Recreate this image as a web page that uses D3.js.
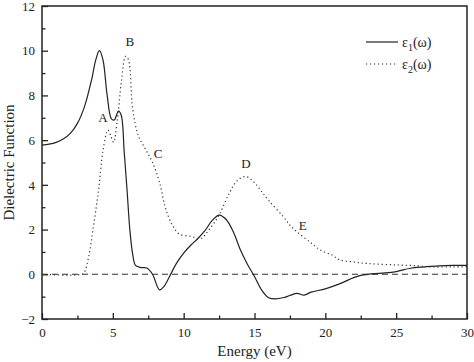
<!doctype html>
<html lang="en">
<head>
  <script src="https://cdnjs.cloudflare.com/ajax/libs/d3/7.8.5/d3.min.js"></script>
  <style type="text/css">
    body { margin: 0; padding: 0; background: #fff; }
    svg { display: block; }
    text { font-family: "Liberation Serif", "DejaVu Serif", serif; fill: #222; }
  </style>
</head>
<body>
<svg id="canvas" width="474" height="362"></svg>
<script>
// energy grid + the two curves
var energy1 = [0, 0.5, 1, 1.5, 2, 2.5, 3, 3.5, 3.8, 4.05, 4.3, 4.6, 4.9, 5.1, 5.4, 5.6, 5.8, 6.0, 6.2, 6.4, 6.6,
  7.0, 7.4, 7.8, 8.3, 8.6, 9.0, 9.5, 10, 10.5, 11, 11.5, 12, 12.5, 13, 13.5, 14, 14.5, 15, 15.5, 16, 16.5,
  17, 17.5, 18, 18.5, 19, 20, 21, 22, 22.5, 23, 24, 25, 26, 27, 28, 29, 30];
var eps1 = [5.78, 5.82, 5.9, 6.05, 6.3, 6.75, 7.5, 8.7, 9.6, 10.0, 9.6, 8.0, 6.95, 6.9, 7.3, 7.1, 5.5, 3.8, 2.0, 0.9, 0.4,
  0.3, 0.28, 0.0, -0.7, -0.55, -0.1, 0.5, 0.95, 1.3, 1.6, 1.95, 2.4, 2.65, 2.45, 1.9, 1.1, 0.45, -0.1, -0.7, -1.05, -1.1,
  -1.05, -0.95, -0.85, -0.93, -0.8, -0.65, -0.43, -0.15, -0.05, 0.0, 0.05, 0.12, 0.27, 0.33, 0.38, 0.4, 0.4];

var energy2 = [0, 2.8, 3.0, 3.3, 3.6, 4.0, 4.3, 4.65, 4.85, 5.05, 5.3, 5.6, 5.9, 6.1, 6.4, 6.8, 7.3, 7.8, 8.3, 8.7,
  9.2, 9.7, 10.5, 11.2, 11.8, 12.5, 13.2, 13.8, 14.4, 15, 15.5, 16, 17, 17.5, 18, 19, 19.6, 20.5, 21, 22, 23,
  25, 26.5, 27.5, 29, 30];
var eps2 = [0, 0, 0.1, 0.8, 2.0, 3.8, 5.5, 6.45, 6.2, 5.9, 6.8, 8.6, 9.75, 9.6, 7.4, 6.2, 5.6, 5.0, 4.1, 3.0,
  2.2, 1.8, 1.7, 1.6, 2.0, 2.65, 3.6, 4.2, 4.37, 4.1, 3.7, 3.3, 2.6, 2.2, 1.9, 1.4, 1.1, 0.85, 0.65, 0.55, 0.48,
  0.42, 0.38, 0.33, 0.33, 0.34];

var xTicks = [0, 5, 10, 15, 20, 25, 30];
var yTicks = [-2, 0, 2, 4, 6, 8, 10, 12];

var peakNames = ['A', 'B', 'C', 'D', 'E'];
var peakE = [4.3, 6.2, 8.2, 14.4, 18.4];
var peakV = [6.8, 10.2, 5.2, 4.75, 2.0];

var svg = d3.select('#canvas');

var plotLeft = 42, plotRight = 467, plotTop = 6, plotBottom = 319;

var x = d3.scaleLinear().domain([0, 30]).range([plotLeft, plotRight]);
var y = d3.scaleLinear().domain([-2, 12]).range([plotBottom, plotTop]);

// frame
svg.append('rect')
  .attr('x', plotLeft).attr('y', plotTop)
  .attr('width', plotRight - plotLeft).attr('height', plotBottom - plotTop)
  .attr('fill', 'none').attr('stroke', '#222').attr('stroke-width', 1.5);

// ticks, inward
var xAxis = d3.axisBottom(x).tickValues(xTicks).tickSizeInner(-6).tickSizeOuter(0).tickPadding(9);
var gx = svg.append('g').attr('transform', 'translate(0,' + plotBottom + ')').call(xAxis);
gx.select('.domain').remove();
gx.selectAll('text').style('font-size', '13px').style('font-family', '"Liberation Serif", serif').attr('fill', '#222');
gx.selectAll('line').attr('stroke', '#222').attr('stroke-width', 1.3);

var xMinor = d3.axisBottom(x).tickValues(d3.range(2.5, 30, 5)).tickSizeInner(-3.5).tickSizeOuter(0).tickFormat('');
var gxm = svg.append('g').attr('transform', 'translate(0,' + plotBottom + ')').call(xMinor);
gxm.select('.domain').remove();
gxm.selectAll('line').attr('stroke', '#222').attr('stroke-width', 1.3);

var yAxis = d3.axisLeft(y).tickValues(yTicks).tickSizeInner(-6).tickSizeOuter(0).tickPadding(7);
var gy = svg.append('g').attr('transform', 'translate(' + plotLeft + ',0)').call(yAxis);
gy.select('.domain').remove();
gy.selectAll('text').style('font-size', '13px').style('font-family', '"Liberation Serif", serif').attr('fill', '#222');
gy.selectAll('line').attr('stroke', '#222').attr('stroke-width', 1.3);

var yMinor = d3.axisLeft(y).tickValues(d3.range(-1, 12, 2)).tickSizeInner(-3.5).tickSizeOuter(0).tickFormat('');
var gym = svg.append('g').attr('transform', 'translate(' + plotLeft + ',0)').call(yMinor);
gym.select('.domain').remove();
gym.selectAll('line').attr('stroke', '#222').attr('stroke-width', 1.3);

// zero line
svg.append('line')
  .attr('x1', x(0)).attr('x2', x(30))
  .attr('y1', y(0)).attr('y2', y(0))
  .attr('stroke', '#333').attr('stroke-width', 1.1)
  .attr('stroke-dasharray', '6,4');

var line = d3.line().curve(d3.curveCatmullRom.alpha(0.5));

svg.append('path')
  .attr('d', line(energy1.map(function(e, i) { return [x(e), y(eps1[i])]; })))
  .attr('fill', 'none').attr('stroke', '#222').attr('stroke-width', 1.2);

svg.append('path')
  .attr('d', line(energy2.map(function(e, i) { return [x(e), y(eps2[i])]; })))
  .attr('fill', 'none').attr('stroke', '#333').attr('stroke-width', 1.2)
  .attr('stroke-dasharray', '1.2,2.8');

// peak labels
svg.selectAll('.peak').data(peakNames).enter().append('text')
  .attr('class', 'peak')
  .attr('x', function(d, i) { return x(peakE[i]); })
  .attr('y', function(d, i) { return y(peakV[i]); })
  .attr('text-anchor', 'middle')
  .style('font-size', '13px')
  .text(function(d) { return d; });

// legend
function legendLabel(yy, sub) {
  var t = svg.append('text').attr('x', 402).attr('y', yy + 5).style('font-size', '14px');
  t.append('tspan').text('ε');
  t.append('tspan').attr('dy', 4).style('font-size', '10px').text(sub);
  t.append('tspan').attr('dy', -4).text('(ω)');
}
svg.append('line').attr('x1', 366).attr('x2', 398).attr('y1', 42).attr('y2', 42)
  .attr('stroke', '#222').attr('stroke-width', 1.2);
legendLabel(42, '1');
svg.append('line').attr('x1', 366).attr('x2', 398).attr('y1', 64).attr('y2', 64)
  .attr('stroke', '#333').attr('stroke-width', 1.2).attr('stroke-dasharray', '1.2,2.8');
legendLabel(64, '2');

// axis titles
svg.append('text')
  .attr('x', x(15)).attr('y', 356)
  .attr('text-anchor', 'middle')
  .style('font-size', '15px')
  .text('Energy (eV)');

svg.append('text')
  .attr('transform', 'translate(14,' + y(5) + ') rotate(-90)')
  .attr('text-anchor', 'middle')
  .style('font-size', '15px')
  .text('Dielectric Function');
</script>
</body>
</html>
